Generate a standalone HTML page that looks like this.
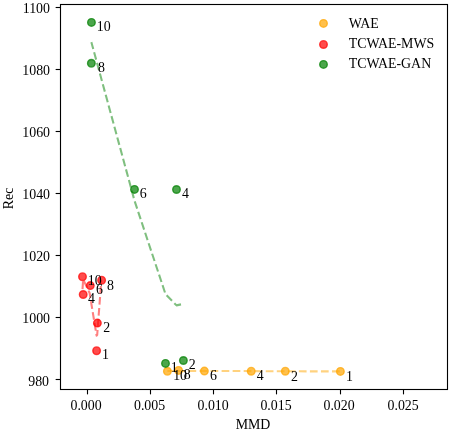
<!DOCTYPE html>
<html><head><meta charset="utf-8"><title>MMD vs Rec</title><style>
html,body{margin:0;padding:0;background:#fff;overflow:hidden;}svg{display:block;}
text{font-family:"Liberation Serif","Times New Roman",serif;font-size:13.89px;fill:#000;}
</style></head><body>
<svg width="450" height="434" viewBox="0 0 450 434">
<rect width="450" height="434" fill="#fff"/>
<path d="M167.40 370.97 L178.60 370.92 L204.40 370.91 L251.20 371.11 L285.30 371.31 L340.40 371.38" fill="none" stroke="rgb(255,165,0)" stroke-opacity="0.5" stroke-width="2.08" stroke-dasharray="7.71 3.33" stroke-dashoffset="1.00" stroke-linejoin="round" stroke-linecap="butt"/>
<path d="M82.50 289.10 L83.20 279.40 L89.60 293.00 L96.60 335.70 L97.20 334.90 L101.30 280.50" fill="none" stroke="rgb(255,0,0)" stroke-opacity="0.5" stroke-width="2.08" stroke-dasharray="7.71 3.33" stroke-dashoffset="0.00" stroke-linejoin="round" stroke-linecap="butt"/>
<path d="M91.35 42.14 L91.45 42.40 L134.50 200.64 L165.50 294.10 L176.50 305.37 L183.40 303.85" fill="none" stroke="rgb(0,128,0)" stroke-opacity="0.5" stroke-width="2.08" stroke-dasharray="7.71 3.33" stroke-dashoffset="0.60" stroke-linejoin="round" stroke-linecap="butt"/>
<g fill="rgb(255,165,0)" fill-opacity="0.7" stroke="rgb(255,165,0)" stroke-opacity="0.7" stroke-width="1.39">
<circle cx="340.40" cy="371.40" r="3.80"/>
<circle cx="285.30" cy="371.20" r="3.80"/>
<circle cx="251.20" cy="371.20" r="3.80"/>
<circle cx="204.40" cy="371.10" r="3.80"/>
<circle cx="178.60" cy="370.40" r="3.80"/>
<circle cx="167.40" cy="371.30" r="3.80"/>
</g>
<g fill="rgb(255,0,0)" fill-opacity="0.7" stroke="rgb(255,0,0)" stroke-opacity="0.7" stroke-width="1.39">
<circle cx="96.60" cy="350.70" r="3.80"/>
<circle cx="97.40" cy="323.10" r="3.80"/>
<circle cx="83.20" cy="294.50" r="3.80"/>
<circle cx="90.30" cy="285.60" r="3.80"/>
<circle cx="101.60" cy="280.20" r="3.80"/>
<circle cx="82.50" cy="276.70" r="3.80"/>
</g>
<g fill="rgb(0,128,0)" fill-opacity="0.7" stroke="rgb(0,128,0)" stroke-opacity="0.7" stroke-width="1.39">
<circle cx="165.50" cy="363.40" r="3.80"/>
<circle cx="183.40" cy="360.50" r="3.80"/>
<circle cx="176.50" cy="189.50" r="3.80"/>
<circle cx="134.50" cy="189.40" r="3.80"/>
<circle cx="91.35" cy="63.30" r="3.80"/>
<circle cx="91.45" cy="22.40" r="3.80"/>
</g>
<text x="345.96" y="381.00">1</text>
<text x="291.06" y="381.00">2</text>
<text x="256.76" y="380.00">4</text>
<text x="209.96" y="380.00">6</text>
<text x="183.86" y="379.00">8</text>
<text x="173.16" y="380.00">10</text>
<text x="102.10" y="359.00">1</text>
<text x="103.26" y="332.00">2</text>
<text x="87.90" y="303.00">4</text>
<text x="96.01" y="294.00">6</text>
<text x="107.06" y="290.00">8</text>
<text x="87.81" y="285.00">10</text>
<text x="170.66" y="372.00">1</text>
<text x="188.80" y="369.00">2</text>
<text x="182.06" y="198.00">4</text>
<text x="139.86" y="198.00">6</text>
<text x="98.00" y="72.00">8</text>
<text x="96.76" y="31.00">10</text>
<rect x="60.50" y="4.50" width="387.00" height="385.00" fill="none" stroke="#000" stroke-width="1.11" stroke-linejoin="miter"/>
<line x1="55.64" y1="379.50" x2="60.50" y2="379.50" stroke="#000" stroke-width="1.11"/>
<text x="49.00" y="386.00" text-anchor="end">980</text>
<line x1="55.64" y1="317.50" x2="60.50" y2="317.50" stroke="#000" stroke-width="1.11"/>
<text x="50.00" y="323.00" text-anchor="end">1000</text>
<line x1="55.64" y1="255.50" x2="60.50" y2="255.50" stroke="#000" stroke-width="1.11"/>
<text x="50.00" y="261.00" text-anchor="end">1020</text>
<line x1="55.64" y1="193.50" x2="60.50" y2="193.50" stroke="#000" stroke-width="1.11"/>
<text x="50.00" y="199.00" text-anchor="end">1040</text>
<line x1="55.64" y1="131.50" x2="60.50" y2="131.50" stroke="#000" stroke-width="1.11"/>
<text x="50.00" y="137.00" text-anchor="end">1060</text>
<line x1="55.64" y1="69.50" x2="60.50" y2="69.50" stroke="#000" stroke-width="1.11"/>
<text x="50.00" y="75.00" text-anchor="end">1080</text>
<line x1="55.64" y1="7.50" x2="60.50" y2="7.50" stroke="#000" stroke-width="1.11"/>
<text x="50.00" y="13.00" text-anchor="end">1100</text>
<line x1="87.50" y1="389.50" x2="87.50" y2="394.36" stroke="#000" stroke-width="1.11"/>
<text x="86.05" y="410.00" text-anchor="middle">0.000</text>
<line x1="150.50" y1="389.50" x2="150.50" y2="394.36" stroke="#000" stroke-width="1.11"/>
<text x="149.55" y="410.00" text-anchor="middle">0.005</text>
<line x1="213.50" y1="389.50" x2="213.50" y2="394.36" stroke="#000" stroke-width="1.11"/>
<text x="213.10" y="410.00" text-anchor="middle">0.010</text>
<line x1="276.50" y1="389.50" x2="276.50" y2="394.36" stroke="#000" stroke-width="1.11"/>
<text x="276.00" y="410.00" text-anchor="middle">0.015</text>
<line x1="340.50" y1="389.50" x2="340.50" y2="394.36" stroke="#000" stroke-width="1.11"/>
<text x="339.05" y="410.00" text-anchor="middle">0.020</text>
<line x1="403.50" y1="389.50" x2="403.50" y2="394.36" stroke="#000" stroke-width="1.11"/>
<text x="403.10" y="410.00" text-anchor="middle">0.025</text>
<text x="253.0" y="429" text-anchor="middle">MMD</text>
<text transform="translate(12.6 198.5) rotate(-90)" text-anchor="middle">Rec</text>
<circle cx="323.5" cy="23.40" r="3.80" fill="rgb(255,165,0)" fill-opacity="0.7" stroke="rgb(255,165,0)" stroke-opacity="0.7" stroke-width="1.39"/>
<text x="348.7" y="28.00">WAE</text>
<circle cx="323.5" cy="44.45" r="3.80" fill="rgb(255,0,0)" fill-opacity="0.7" stroke="rgb(255,0,0)" stroke-opacity="0.7" stroke-width="1.39"/>
<text x="348.7" y="48.00">TCWAE-MWS</text>
<circle cx="323.5" cy="64.40" r="3.80" fill="rgb(0,128,0)" fill-opacity="0.7" stroke="rgb(0,128,0)" stroke-opacity="0.7" stroke-width="1.39"/>
<text x="348.7" y="68.00">TCWAE-GAN</text>
</svg></body></html>
